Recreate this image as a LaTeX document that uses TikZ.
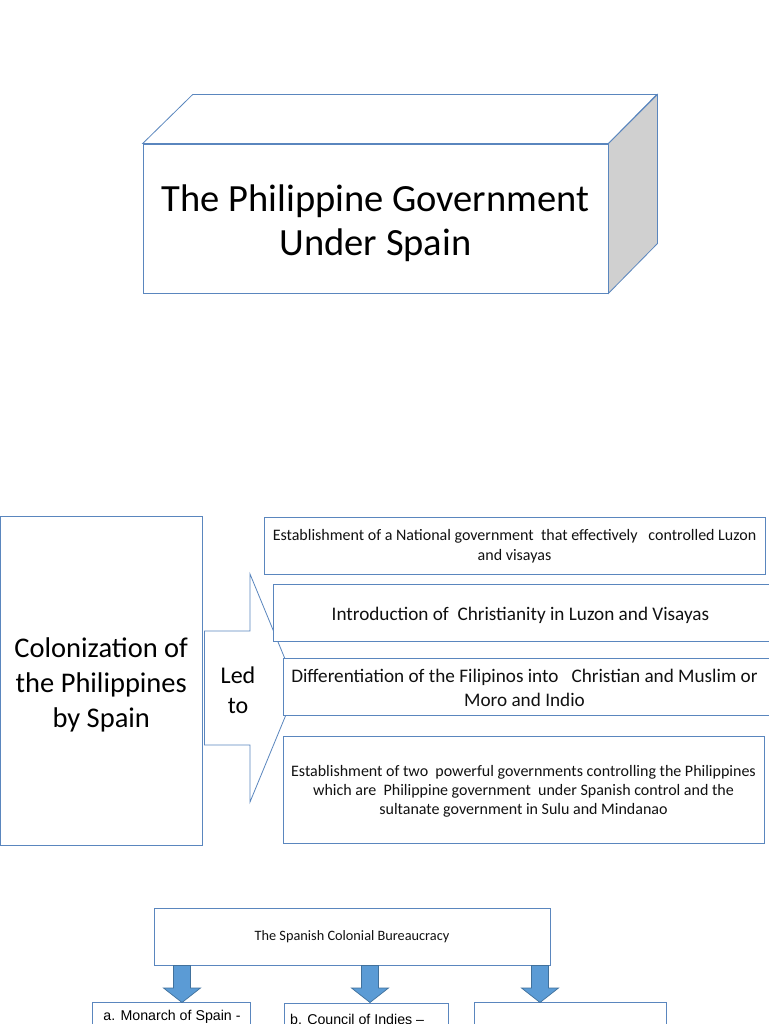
\documentclass[tikz,border=0pt]{standalone}
\usepackage{fontspec}
\setmainfont{Carlito}
\newfontfamily\arialfont{Liberation Sans}
\usetikzlibrary{calc}
\definecolor{edgeblue}{HTML}{5A86BE}
\definecolor{sidegray}{HTML}{D0D0D0}
\definecolor{arrowfill}{HTML}{5B9BD5}
\definecolor{arrowedge}{HTML}{41719C}
\definecolor{txt}{HTML}{111111}
\tikzset{
  plainbox/.style={draw=edgeblue, line width=0.8pt, fill=white, inner sep=0pt, align=center, text=txt},
  boxtext/.style={text=txt, align=center, inner sep=0pt},
  cubeface/.style={draw=edgeblue, line width=0.8pt, line join=miter},
  blockarrow/.style={draw=arrowedge, fill=arrowfill, line width=0.7pt, line join=miter},
}
\begin{document}
\begin{tikzpicture}[x=1pt, y=-1pt]
\useasboundingbox (0,0) rectangle (768,1024);
\fill[white] (0,0) rectangle (768,1024);

% ---- title cube ----
\node[plainbox, minimum width=465pt, minimum height=149pt] (title) at (375.5,218.5) {};
\node[boxtext, text=black, font=\fontsize{38.5}{44}\selectfont] (titletext) at (375.5,223.5)
  {The Philippine Government\\ Under Spain};
\draw[cubeface, fill=white] (title.north west) -- ++(50,-49) -- ++(464,0) -- (title.north east) -- cycle;
\draw[cubeface, fill=sidegray] (title.north east) -- ++(49,-49) -- ++(0,149) -- (title.south east) -- cycle;

% ---- colonization box ----
\node[plainbox, minimum width=201.5pt, minimum height=329pt] (col) at (101.25,680.5) {};
\node[boxtext, text=black, font=\fontsize{28.5}{35}\selectfont] (coltext) at (101.25,684.5)
  {Colonization of\\ the Philippines\\ by Spain};

% ---- "Led to" arrow ----
\coordinate (ledtip) at (297,688);
\draw[cubeface, fill=white] (204.5,631) -- (250,631) -- (250,574) -- (ledtip) -- (250,802) -- (250,745) -- (204.5,745) -- cycle;
\node[boxtext, text=black, font=\fontsize{24}{30}\selectfont] (led) at (238,690)
  {Led\\ to};

% ---- consequences ----
\node[plainbox, minimum width=501pt, minimum height=57pt] (c1) at (514.5,545.5) {};
\node[boxtext, font=\fontsize{16}{20}\selectfont] (c1text) at (514.5,546.5)
  {Establishment of a National government\ \ that effectively\ \ \ controlled Luzon\\ and visayas};
\node[plainbox, minimum width=499pt, minimum height=57.5pt] (c2) at (522.5,612.75) {};
\node[boxtext, font=\fontsize{19.2}{24}\selectfont] (c2text) at (520.5,615)
  {Introduction of\ \ Christianity in Luzon and Visayas};
\node[plainbox, minimum width=489pt, minimum height=57pt] (c3) at (527.5,686.5) {};
\node[boxtext, font=\fontsize{19.2}{24}\selectfont] (c3text) at (524.5,688)
  {Differentiation of the Filipinos into\ \ \ Christian and Muslim or\\ Moro and Indio};
\node[plainbox, minimum width=481pt, minimum height=107pt] (c4) at (523.5,789.5) {};
\node[boxtext, font=\fontsize{16}{19}\selectfont] (c4text) at (523.5,791.5)
  {Establishment of two\ \ powerful governments controlling the Philippines\\ which are\ \ Philippine government\ \ under Spanish control and the\\ sultanate government in Sulu and Mindanao};

% ---- bureaucracy ----
\node[plainbox, minimum width=396pt, minimum height=57pt, font=\fontsize{14.3}{17}\selectfont] (bur) at (352,937)
  {The Spanish Colonial Bureaucracy};

\node[plainbox, minimum width=158pt, minimum height=28pt, anchor=north west] (ba) at (92,1002) {};
\node[plainbox, minimum width=164pt, minimum height=28pt, anchor=north west] (bb) at (284,1003) {};
\node[plainbox, minimum width=192pt, minimum height=28pt, anchor=north west] (bc) at (474,1002) {};
\node[text=black, inner sep=0pt, font=\arialfont\fontsize{14.2}{17}\selectfont] (bat) at (172,1017) {a. Monarch of Spain -};
\node[text=black, inner sep=0pt, anchor=west, font=\arialfont\fontsize{14.2}{17}\selectfont] (bbt) at (290,1019) {b. Council of Indies –};

% ---- block arrows ----
\foreach \name/\xx in {a1/182, a2/370, a3/540}{
  \coordinate (\name) at (\xx,965.5);
  \draw[blockarrow] ($(\name)+(-8.5,0)$) -- ++(0,22.5) -- ++(-10,0) -- ($(\name)+(0,37)$) -- ($(\name)+(18.5,22.5)$) -- ++(-10,0) -- ($(\name)+(8.5,0)$) -- cycle;
}
\end{tikzpicture}
\end{document}
